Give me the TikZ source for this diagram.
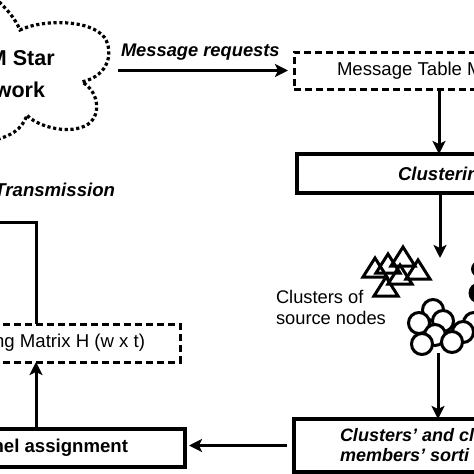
\documentclass[tikz,border=0pt]{standalone}
\usepackage{fontspec}
\setmainfont{Liberation Sans}
\usetikzlibrary{arrows.meta}
\newcommand\fsn{\fontsize{18.6}{22}\selectfont}
\newcommand\fsc{\fontsize{18}{20}\selectfont}
\newcommand\fsb{\fontsize{21.5}{25}\selectfont}
\tikzset{
  dbox/.style={draw, line width=3pt, dash pattern=on 6.5pt off 4.5pt, inner ysep=0pt, outer sep=0pt, font=\fsn},
  sbox/.style={draw, line width=3.2pt, inner ysep=0pt, outer sep=0pt, font=\fsn},
  arr/.style={line width=3pt, -{Stealth[length=13pt,width=13pt,inset=3pt]}},
  ln/.style={line width=3pt, line join=miter},
  cloudline/.style={line width=3.2pt, dash pattern=on 3.2pt off 2.6pt},
  tri/.style={line width=3pt, line join=miter},
  circ/.style={line width=3pt, fill=white},
  lbl/.style={inner sep=0pt, outer sep=0pt}
}
\begin{document}
\begin{tikzpicture}[x=1pt,y=-1pt]
\useasboundingbox (0,0) rectangle (474,474);
\clip (0,0) rectangle (474,474);
% cloud
\draw[cloudline] (-5,-2) .. controls (6,8) and (15,18) .. (20,30)
  .. controls (40,20) and (90,18) .. (105,38)
  .. controls (113,52) and (110,75) .. (82,82)
  .. controls (100,92) and (102,118) .. (85,126)
  .. controls (65,135) and (35,125) .. (27,115)
  .. controls (22,130) and (10,136) .. (-5,140);
\node[lbl, anchor=base west, font=\fsb\bfseries] (net1) at (-11,65) {M Star};
\node[lbl, anchor=base east, font=\fsb\bfseries] (net2) at (45,97) {work};
\coordinate (cloudE) at (118,70.5);
% boxes
\node[dbox, anchor=west, inner xsep=43pt, minimum height=37pt] (msg) at (294,70.5) {Message Table M};
\node[sbox, anchor=west, inner xsep=101pt, minimum height=39pt, font=\fsn\bfseries\itshape] (clu) at (297,173.5) {Clusterin};
\node[sbox, anchor=west, inner xsep=46pt, minimum height=53pt, align=left, font=\fsc\bfseries\itshape] (sort) at (294,445.5) {Clusters’ and cl\\members’ sorti};
\node[sbox, anchor=east, inner xsep=57pt, minimum height=38pt, font=\fsn\bfseries] (chan) at (185,448) {nel assignment};
\node[dbox, anchor=east, inner xsep=35pt, minimum height=38pt] (sched) at (180,343) {ng Matrix H (w x t)};
% labels
\node[lbl, anchor=base west, font=\fontsize{18.3}{21}\selectfont\bfseries\itshape] (req) at (121,56) {Message requests};
\node[lbl, anchor=base east, font=\fsn\bfseries\itshape] (trans) at (115,196) {Transmission};
\node[lbl, anchor=north west, align=left, font=\fontsize{18.3}{21}\selectfont] (cls) at (276,290) {Clusters of\\source nodes};
% clusters
\foreach \x/\y in {375/258,388/254,403/247,418/260,400/265,386/277}
  \draw[tri] (\x-12,\y+19) -- (\x,\y) -- (\x+12,\y+19) -- cycle;
\foreach \x/\y in {433/310,443/321,419/323,474/323,463/332,435/335,452/342,422/344}
  \draw[circ] (\x,\y) circle[radius=10.5];
\fill (479,269) circle[radius=8];
\fill (479,293) circle[radius=10.5];
% coordinates
\coordinate (ax) at (439,0);
\coordinate (ctop) at (440,258);
\coordinate (cbot) at (438,353);
\coordinate (tx) at (36,222);
\coordinate (tend) at (-30,222);
% connectors
\draw[arr, shorten >=6pt] (cloudE) -- (msg.west);
\draw[arr] (msg.south -| ax) -- (clu.north -| ax);
\draw[arr] (clu.south -| ctop) -- (ctop);
\draw[arr] (cbot) -- (sort.north -| cbot);
\draw[arr, shorten <=7pt, shorten >=4pt] (sort.west) -- (sort.west -| chan.east);
\draw[arr] (chan.north -| tx) -- (sched.south -| tx);
\draw[ln] (sched.north -| tx) -- (tx) -- (tend);
\end{tikzpicture}
\end{document}
